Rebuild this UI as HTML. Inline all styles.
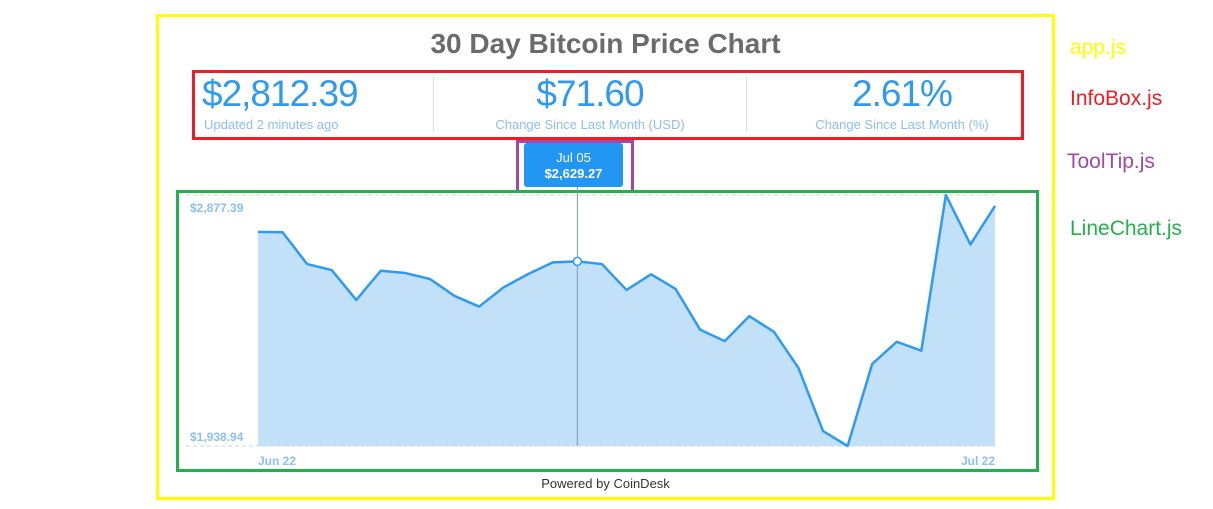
<!DOCTYPE html>
<html><head><meta charset="utf-8">
<style>
body{margin:0;width:1213px;height:509px;background:#fff;font-family:"Liberation Sans",sans-serif;position:relative;overflow:hidden}
.abs{position:absolute}
.big{color:#2f9bf0;font-size:37px;font-weight:normal;letter-spacing:-1px}
.sub{color:#8cc0f2;font-size:13px}
.side{font-size:21px}
</style></head><body>
<div class="abs" style="left:156px;top:14px;width:893px;height:480px;border:3px solid #ffff00"></div>
<div class="abs" style="left:156px;width:899px;top:28px;text-align:center;font-size:28px;font-weight:bold;color:#6b6b6b">30 Day Bitcoin Price Chart</div>
<div class="abs" style="left:192px;top:70px;width:826px;height:64px;border:3px solid #ee1c24"></div>
<div class="abs" style="left:433px;top:76px;width:1px;height:56px;background:#dde3ea"></div>
<div class="abs" style="left:746px;top:76px;width:1px;height:56px;background:#dde3ea"></div>
<div class="abs big" style="left:202px;top:73px">$2,812.39</div>
<div class="abs sub" style="left:204px;top:117px">Updated 2 minutes ago</div>
<div class="abs big" style="left:434px;width:312px;text-align:center;top:73px">$71.60</div>
<div class="abs sub" style="left:434px;width:312px;text-align:center;top:117px">Change Since Last Month (USD)</div>
<div class="abs big" style="left:747px;width:310px;text-align:center;top:73px">2.61%</div>
<div class="abs sub" style="left:747px;width:310px;text-align:center;top:117px">Change Since Last Month (%)</div>
<div class="abs" style="left:516px;top:140px;width:112px;height:47px;border:3px solid #a349a4"></div>
<div class="abs" style="left:524px;top:143px;width:99px;height:44px;background:#2196f3;border-radius:3px;color:#fff;text-align:center">
<div style="font-size:13px;margin-top:7px">Jul 05</div><div style="font-size:13px;font-weight:bold;margin-top:1px">$2,629.27</div></div>
<div class="abs" style="left:176px;top:190px;width:857px;height:276px;border:3px solid #22b14c"></div>
<svg class="abs" style="left:0;top:0" width="1213" height="509" id="chart"></svg>
<div class="abs" style="left:156px;width:899px;text-align:center;top:476px;font-size:13px;color:#333">Powered by CoinDesk</div>
<div class="abs side" style="left:1070px;top:36px;color:#ffff00">app.js</div>
<div class="abs side" style="left:1070px;top:87px;color:#ee1c24">InfoBox.js</div>
<div class="abs side" style="left:1067px;top:150px;color:#a349a4">ToolTip.js</div>
<div class="abs side" style="left:1070px;top:217px;color:#22b14c">LineChart.js</div>
<script>
const dates=["Jun 22","Jul 22"];
const yTickLabels=["$2,877.39","$1,938.94"];
const prices=[2739.5,2738.3,2619.2,2596.8,2485.1,2594.3,2585.6,2563.3,2500.0,2460.3,2532.3,2581.9,2625.4,2629.27,2619.2,2522.4,2580.7,2526.1,2373.4,2331.2,2424.3,2365.9,2230.7,1994.8,1938.94,2245.5,2328.7,2295.2,2877.39,2692.4,2836.4];
const hoverIndex=13;
const svg=document.getElementById('chart');
const NS='http://www.w3.org/2000/svg';
const x0=258,x1=995,yTop=195,yBot=446;
const minV=Math.min(...prices),maxV=Math.max(...prices);
const xs=i=>x0+(x1-x0)*i/(prices.length-1);
const ys=v=>yBot-(v-minV)/(maxV-minV)*(yBot-yTop);
function mk(t,a){const e=document.createElementNS(NS,t);for(const k in a)e.setAttribute(k,a[k]);svg.appendChild(e);return e;}
[yTop,yBot].forEach((y,i)=>{const l=mk('line',{x1:186,x2:995,y1:y,y2:y,stroke:'#d6d6d6','stroke-dasharray':'4,3','stroke-width':1});

});
let pts=prices.map((v,i)=>xs(i)+','+ys(v)).join(' ');
const area=mk('polygon',{points:x0+','+yBot+' '+pts+' '+x1+','+yBot,fill:'#c2e0f8'});


const hl=mk('line',{x1:xs(hoverIndex),x2:xs(hoverIndex),y1:187,y2:yBot,stroke:'#7a9bbd','stroke-width':1});


const line=mk('polyline',{points:pts,fill:'none',stroke:'#2d9cf0','stroke-width':2.5,'stroke-linejoin':'round'});


const dot=mk('circle',{cx:xs(hoverIndex),cy:ys(prices[hoverIndex]),r:4,fill:'#fff',stroke:'#2d9cf0','stroke-width':1.5});


function txt(s,x,y,anchor,name){const t=mk('text',{x:x,y:y,'text-anchor':anchor,'font-size':12,'font-weight':'bold',fill:'#8cc0f2','font-family':'Liberation Sans, sans-serif'});t.textContent=s;

}
txt(yTickLabels[0],190,212,'start','y-tick-max');
txt(yTickLabels[1],190,441,'start','y-tick-min');
txt(dates[0],x0,465,'start','x-tick-start');
txt(dates[1],x1,465,'end','x-tick-end');
</script>
</body></html>
